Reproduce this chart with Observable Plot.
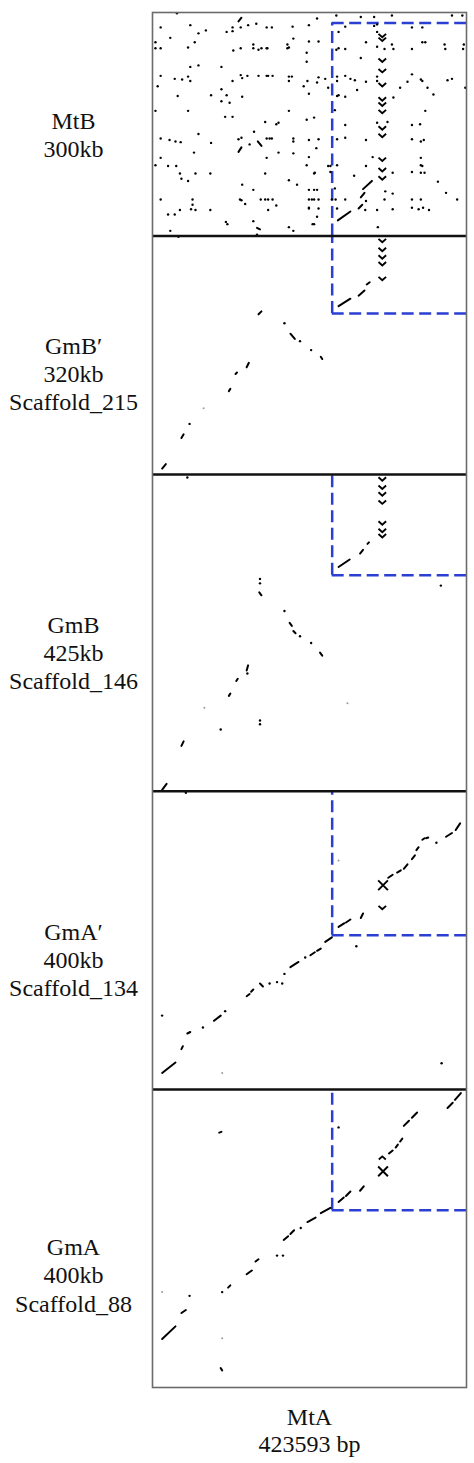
<!DOCTYPE html>
<html><head><meta charset="utf-8">
<script src="https://cdn.jsdelivr.net/npm/d3@7"></script>
<script src="https://cdn.jsdelivr.net/npm/@observablehq/plot@0.6"></script>
<style>body{margin:0;background:#fff}#chart svg{display:block}</style>
</head><body><div id="chart"></div>
<script>
// ---- data (x: MtA position in kb, y: position in each genome segment in kb) ----
const panelNames = ["MtB", "GmB′", "GmB", "GmA′", "GmA"];
const panelSizes = [300, 320, 425, 400, 400];
const panelLabels = ["MtB\n300kb", "GmB′\n320kb\nScaffold_215", "GmB\n425kb\nScaffold_146", "GmA′\n400kb\nScaffold_134", "GmA\n400kb\nScaffold_88"];
const mtaLength = 423.593;
const xTitle = "MtA\n423593 bp";
const regionStart = 242.4;
const regionLow = [0, 216, 290, 207, 238];
const regionHigh = [286, 320, 425, 400, 400];

const mtbDots = [[33,299],[11,280],[51,283],[72,276],[62,272],[100,274],[108,275],[108,280],[119,280],[129,283],[140,285],[154,280],[161,280],[189,281],
[4,260],[24,266],[57,260],[4,252],[11,252],[48,253],[109,249],[119,252],[136,257],[136,252],[143,250],[147,252],[154,252],[155,252],[182,257],[184,253],[182,252],[190,265],
[62,229],[51,227],[93,227],[11,215],[30,211],[40,210],[48,214],[51,208],[108,208],[119,216],[121,212],[128,215],[143,215],[154,215],[156,215],[162,215],[184,214],[188,214],[184,208],
[7,201],[93,197],[79,189],[100,189],[34,188],[121,187],[93,181],[104,179],[4,168],[48,168],[98,160],[108,160],[184,168],[152,153],[167,150],[170,152],[137,140],[62,137],
[11,131],[23,129],[31,127],[38,126],[79,125],[116,130],[120,132],[154,131],[158,131],[161,131],[190,131],[190,127],[131,123],[56,112],[11,105],[154,105],[170,112],[190,111],
[4,95],[21,94],[32,94],[37,84],[58,84],[78,84],[152,84],[39,77],[48,74],[184,75],[121,69],[195,69],[136,62],[11,49],[54,49],[118,49],[120,48],[146,49],[152,49],[156,49],[162,49],
[167,41],[125,43],[54,42],[37,35],[52,36],[58,35],[78,35],[21,29],[30,29],[156,35],[99,19],[101,16],[136,20],[184,12],[190,7],[24,7],[141,2],
[211,283],[208,246],[208,234],[204,201],[209,208],[208,156],[218,159],[211,106],[218,84],[211,62],[218,62],[211,49],[218,49],[211,38],[218,16],[208,95],
[222,292],[248,296],[281,294],[299,294],[323,296],[404,296],[418,296],[251,274],[260,281],[299,282],[303,284],[303,274],[350,280],[364,280],
[211,261],[224,261],[248,250],[251,252],[260,251],[288,260],[303,254],[313,251],[323,257],[325,251],[350,251],[364,260],[368,260],[394,257],[395,251],[420,257],[419,251],
[281,239],[224,213],[222,206],[233,211],[237,199],[249,214],[249,208],[260,215],[267,211],[273,209],[288,207],[303,214],[303,208],[334,199],[344,207],[350,217],[362,210],[364,208],[371,199],[398,209],[404,211],[422,199],
[276,196],[211,191],[249,188],[251,189],[260,187],[325,186],[379,190],[246,169],[368,168],[260,149],[303,152],[317,153],[350,149],[361,150],
[211,129],[224,130],[221,118],[249,130],[260,132],[288,129],[350,130],[362,127],[366,129],[297,106],[362,105],[237,94],[240,94],[249,95],[288,94],[219,85],[240,86],[362,95],[364,94],[350,86],[362,85],[367,85],[272,81],[324,85],[385,73],
[222,62],[246,64],[314,60],[324,57],[396,58],[215,49],[224,49],[242,49],[247,49],[260,49],[288,47],[313,49],[350,49],[362,49],[411,49],[211,37],[224,37],[249,37],[287,35],[303,35],[324,36],[350,38],[359,36],[365,38],[373,35],[222,26],[216,16],[304,12]];
const mtbSegs = [[116,288,120,293],[142,127,147,121],[116,113,120,119],[141,11,145,9],[250,21,267,33],[278,37,283,42],[281,52,286,58],[284,63,296,74]];
const mtbChevrons = [269,264,236,222,203,184,177,167,145,135,103,89,78];

const gmBpDots = [[35,319],[178,203],[199,179],[214,167],[50,68]];
const gmBpFaint = [[69,89]];
const gmBpSegs = [[251,226,267,236],[278,240,286,247],[289,255,293,258],[143,215,147,219],[186,189,192,182],[227,158,229,155],[127,144,130,150],[112,135,114,137],[103,112,105,115],[39,49,42,54],[13,8,18,14]];
const gmBpChevrons = [314,302,292,283,263];

const gmBDots = [[47,421],[145,285],[145,279],[389,276],[178,242],[199,208],[214,199],[128,158],[92,83],[145,95],[145,90]];
const gmBFaint = [[70,112],[263,118]];
const gmBSegs = [[251,301,266,311],[280,319,284,324],[290,332,292,334],[144,267,147,263],[185,226,188,222],[190,215,193,212],[226,186,229,182],[127,162,129,169],[113,148,115,151],[103,128,105,131],[39,61,42,67],[13,2,19,10]];
const gmBChevrons = [419,408,399,388,360,350,343];

const gmApDots = [[45,398],[383,331],[275,192],[206,177],[178,155],[175,142],[168,144],[158,142],[98,105],[68,83],[13,99],[390,35]];
const gmApFaint = [[251,307],[94,22]];
const gmApSegs = [[318,284,324,288],[330,291,335,294],[339,296,344,302],[350,309,354,314],[356,321,359,325],[364,335,367,337],[369,337,372,338],[396,339,404,344],[409,348,415,357],[281,230,284,236],[251,218,259,223],[261,224,267,228],[233,198,242,204],[213,180,219,184],[222,186,227,189],[186,164,197,171],[145,142,149,138],[127,125,131,128],[133,131,136,134],[83,92,92,99],[47,75,51,77],[39,54,41,58],[13,22,31,36]];
const gmApCrosses = [[311,274]];
const gmApChevrons = [244];

const gmADots = [[251,349],[200,214],[176,177],[168,177],[94,128],[50,123]];
const gmAFaint = [[13,128],[94,66]];
const gmASegs = [[90,342,93,343],[398,375,405,382],[408,386,416,395],[339,351,346,358],[350,362,357,369],[319,314,324,318],[328,322,331,326],[334,330,337,334],[280,264,285,270],[251,249,258,255],[261,257,267,263],[227,234,240,241],[209,222,220,228],[177,198,183,203],[186,206,191,211],[139,169,143,172],[127,152,134,157],[102,134,105,137],[39,100,45,104],[13,65,31,82],[92,26,94,23]];
const gmACrosses = [[311,290]];
const gmACarets = [308];

const chevronX = 310;

// ---- build tables ----
const offsets = panelSizes.map((s, i) => d3.sum(panelSizes.slice(i + 1)));
const total = d3.sum(panelSizes);
const dotsBy = [mtbDots, gmBpDots, gmBDots, gmApDots, gmADots];
const faintBy = [[], gmBpFaint, gmBFaint, gmApFaint, gmAFaint];
const segsBy = [mtbSegs, gmBpSegs, gmBSegs, gmApSegs, gmASegs];
const chevBy = [mtbChevrons, gmBpChevrons, gmBChevrons, gmApChevrons, []];
const crossBy = [[], [], [], gmApCrosses, gmACrosses];
const caretBy = [[], [], [], [], gmACarets];

const dots = dotsBy.flatMap((a, i) => a.map(([x, y]) => ({x, y: y + offsets[i]})));
const faint = faintBy.flatMap((a, i) => a.map(([x, y]) => ({x, y: y + offsets[i]})));
const segs = segsBy.flatMap((a, i) => a.map(([x1, y1, x2, y2]) => ({x1, x2, y1: y1 + offsets[i], y2: y2 + offsets[i]})));
const chevrons = chevBy.flatMap((a, i) => a.map(y => ({x: chevronX, y: y + offsets[i]})));
const crosses = crossBy.flatMap((a, i) => a.map(([x, y]) => ({x, y: y + offsets[i]})));
const carets = caretBy.flatMap((a, i) => a.map(y => ({x: chevronX, y: y + offsets[i]})));

const regions = panelNames.map((p, i) => ({
  i, y1: regionLow[i] + offsets[i], y2: regionHigh[i] + offsets[i],
  edge: i === 0 ? regionHigh[i] + offsets[i] : regionLow[i] + offsets[i]
}));

const chevronSymbol = {draw(ctx, size) { const r = Math.sqrt(size / Math.PI); ctx.moveTo(-r, -r * 0.45); ctx.lineTo(0, r * 0.45); ctx.lineTo(r, -r * 0.45); }};
const caretSymbol = {draw(ctx, size) { const r = Math.sqrt(size / Math.PI); ctx.moveTo(-r, r * 0.45); ctx.lineTo(0, -r * 0.45); ctx.lineTo(r, r * 0.45); }};

const labelDy = [10, 18, 19, 19, 36];
const blue = "#2b3fd3";
const font = "'Liberation Serif', 'Times New Roman', serif";

const chart = Plot.plot({
  width: 474, height: 1463,
  marginLeft: 152, marginRight: 8, marginTop: 12, marginBottom: 76,
  x: {domain: [0, mtaLength], axis: null},
  y: {domain: [0, total], axis: null},
  style: {fontFamily: font, background: "white"},
  marks: [
    Plot.ruleX(regions, {x: regionStart, y1: "y1", y2: "y2", stroke: blue, strokeWidth: 2.5, strokeDasharray: "12,5.5"}),
    Plot.ruleY(regions, {y: "edge", x1: regionStart, x2: mtaLength, stroke: blue, strokeWidth: 2.5, strokeDasharray: "12,5.5"}),
    Plot.dot(faint, {x: "x", y: "y", r: 1, fill: "#9a9a9a"}),
    Plot.dot(dots, {x: "x", y: "y", r: 1.2, fill: "#000"}),
    Plot.link(segs, {x1: "x1", y1: "y1", x2: "x2", y2: "y2", stroke: "#000", strokeWidth: 2, strokeLinecap: "round"}),
    Plot.dot(chevrons, {x: "x", y: "y", r: 3.8, symbol: chevronSymbol, stroke: "#000", strokeWidth: 1.9, fill: "none"}),
    Plot.dot(carets, {x: "x", y: "y", r: 3.5, symbol: caretSymbol, stroke: "#000", strokeWidth: 1.8, fill: "none"}),
    Plot.dot(crosses, {x: "x", y: "y", r: 4.5, symbol: "times", stroke: "#000", strokeWidth: 1.9}),
    Plot.ruleY(offsets.slice(0, -1), {stroke: "#111", strokeWidth: 2.5}),
    Plot.frame({stroke: "#6b6b6b", strokeWidth: 1.6}),
    ...panelLabels.map((t, i) => Plot.text([t], {
      x: 0, y: offsets[i] + panelSizes[i] / 2, text: d => d, dx: -79, dy: labelDy[i],
      textAnchor: "middle", lineAnchor: "middle", lineHeight: 1.17, fontSize: 24, fill: "#111", fontFamily: font
    })),
    Plot.text([xTitle], {frameAnchor: "bottom", dy: 42, text: d => d, textAnchor: "middle", lineAnchor: "middle", lineHeight: 1.12, fontSize: 24, fill: "#111", fontFamily: font})
  ]
});
document.getElementById("chart").append(chart);
</script>
</body></html>
